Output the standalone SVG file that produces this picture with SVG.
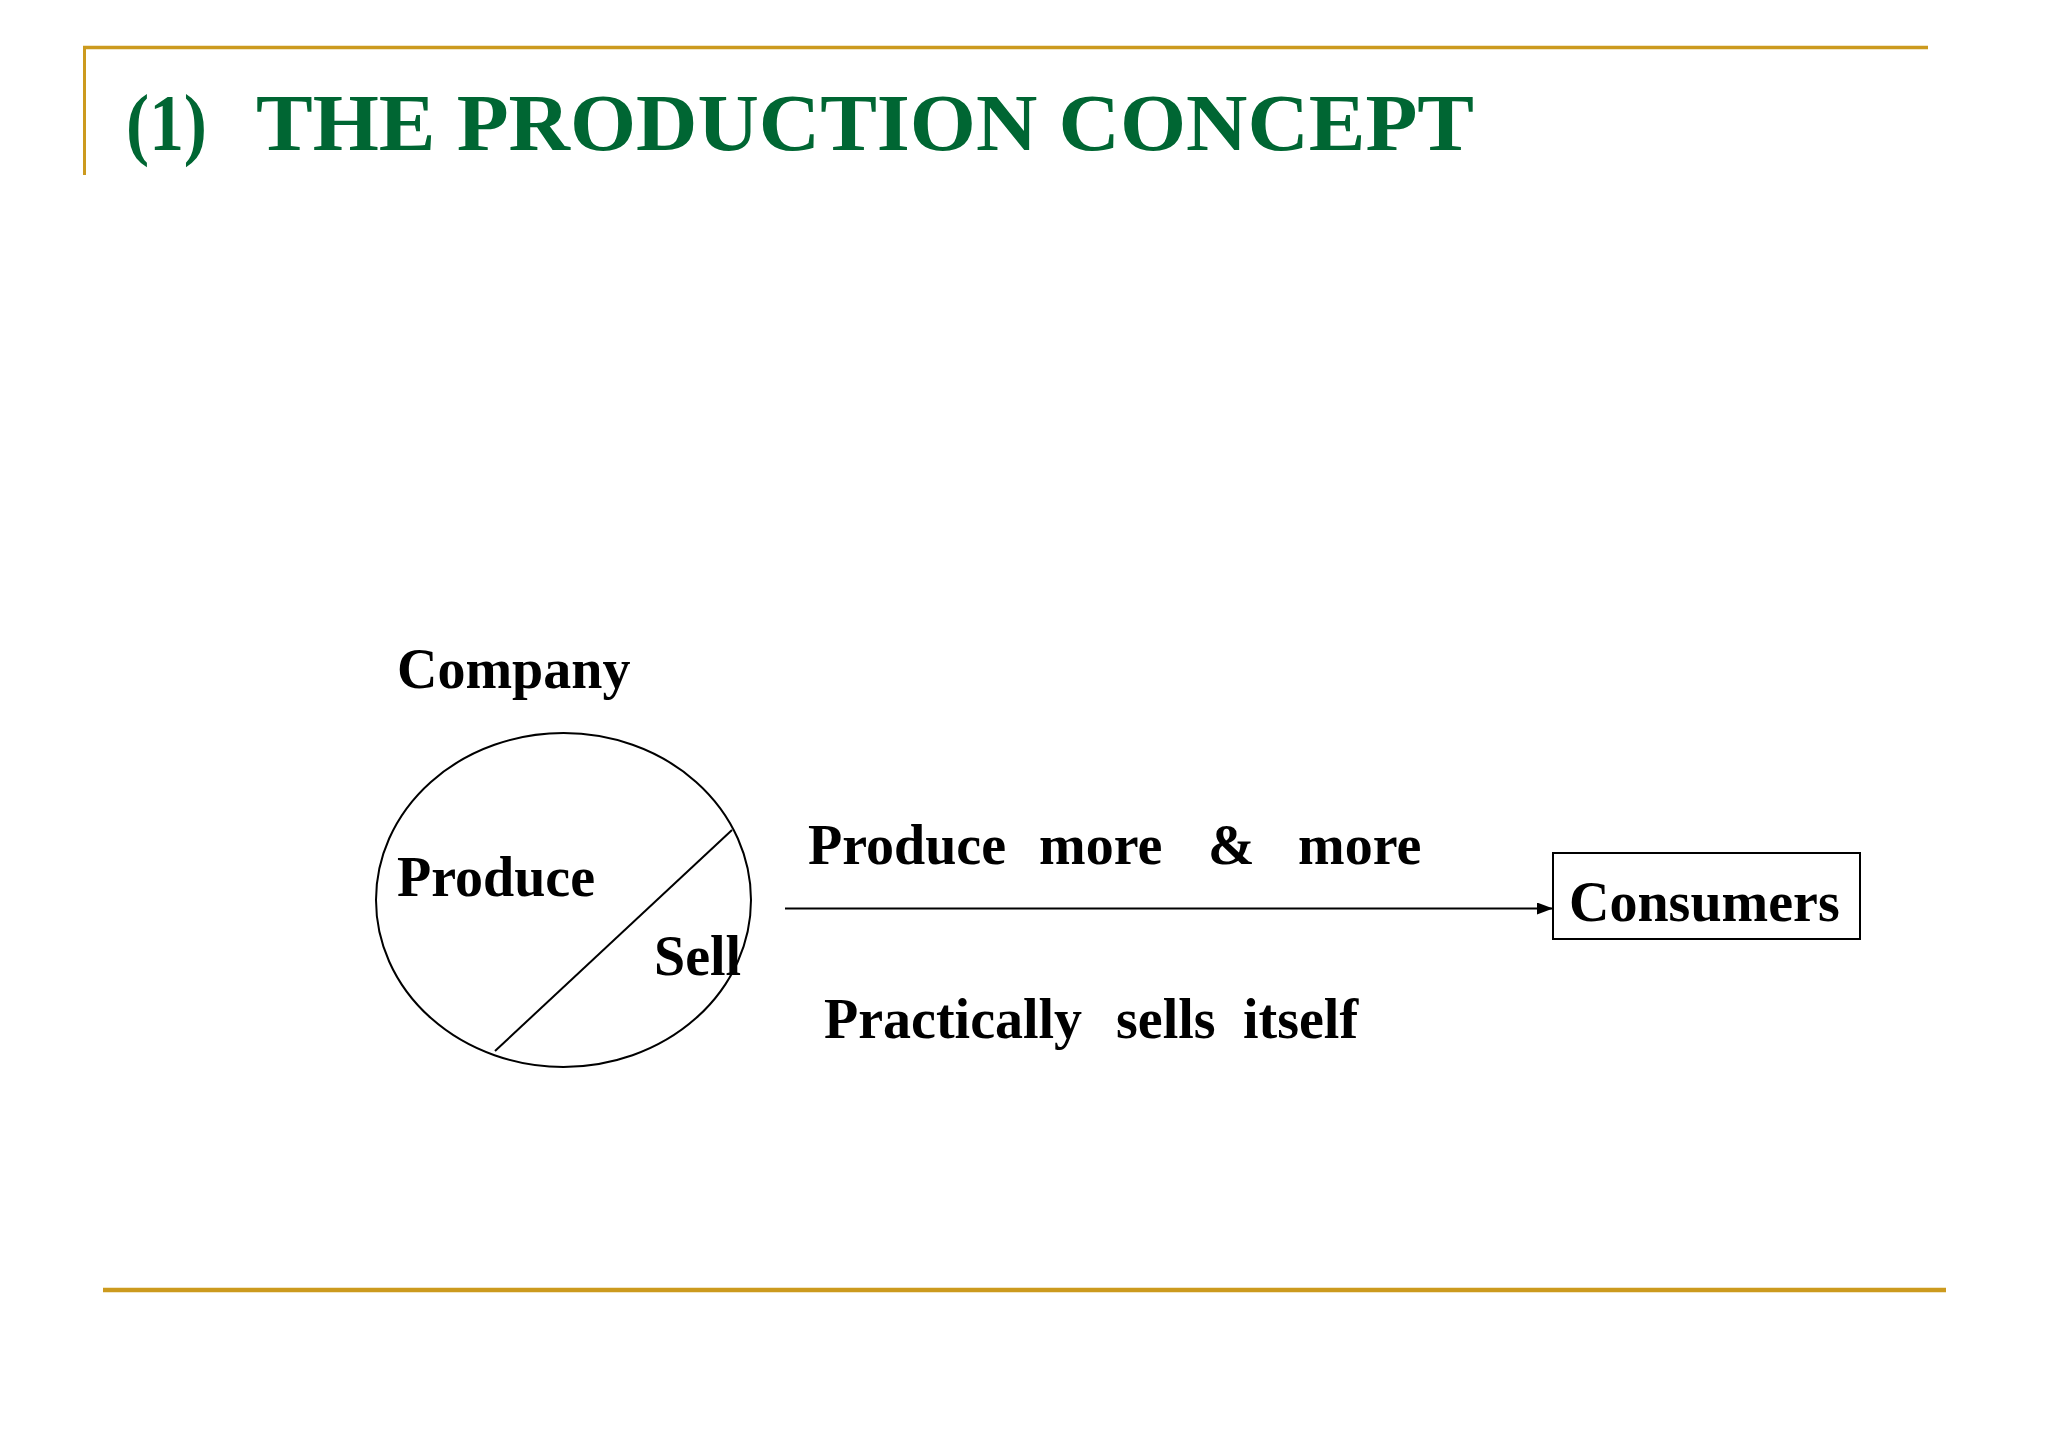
<svg xmlns="http://www.w3.org/2000/svg" width="2048" height="1434" viewBox="0 0 2048 1434">
<style>
.rule{stroke:#CC9A1E;fill:none}
.t{font-family:"Liberation Serif","Times New Roman",serif;font-weight:bold;font-size:56px;fill:#000}
.title{font-family:"Liberation Serif","Times New Roman",serif;font-weight:bold;font-size:80px;fill:#006633}
.ln{stroke:#000;stroke-width:2;fill:none}
</style>
<defs>
<marker id="arr" viewBox="0 0 16 12" refX="16" refY="6" markerWidth="16" markerHeight="12" markerUnits="userSpaceOnUse" orient="auto">
<path d="M0,0 L16,6 L0,12 Z" fill="#000"/>
</marker>
</defs>
<rect width="2048" height="1434" fill="#FFFFFF"/>
<g id="frame">
<line class="rule" x1="83" y1="47.5" x2="1928" y2="47.5" stroke-width="3.5"/>
<line class="rule" x1="84.5" y1="46" x2="84.5" y2="175" stroke-width="3"/>
<line class="rule" x1="103" y1="1290" x2="1946" y2="1290" stroke-width="4.5"/>
</g>
<text id="title" class="title" y="150"><tspan x="126" textLength="81" lengthAdjust="spacingAndGlyphs">(1)</tspan><tspan x="256" textLength="1218" lengthAdjust="spacingAndGlyphs">THE PRODUCTION CONCEPT</tspan></text>
<g id="company">
<text class="t" x="397" y="688">Company</text>
<ellipse class="ln" cx="563.5" cy="900" rx="187.5" ry="167"/>
<line class="ln" x1="732" y1="830" x2="495" y2="1051"/>
<text class="t" x="397" y="896">Produce</text>
<text class="t" x="654" y="975">Sell</text>
</g>
<g id="consumers">
<rect x="1553" y="853" width="307" height="86" fill="none" stroke="#000" stroke-width="2"/>
<text class="t" x="1569" y="921">Consumers</text>
</g>
<g id="connectors">
<line class="ln" x1="785" y1="908.5" x2="1553" y2="908.5" marker-end="url(#arr)"/>
<text class="t" y="864"><tspan x="808">Produce</tspan><tspan x="1039">more</tspan><tspan x="1208">&amp;</tspan><tspan x="1298">more</tspan></text>
<text class="t" y="1038"><tspan x="824">Practically</tspan><tspan x="1116">sells</tspan><tspan x="1243">itself</tspan></text>
</g>
</svg>
